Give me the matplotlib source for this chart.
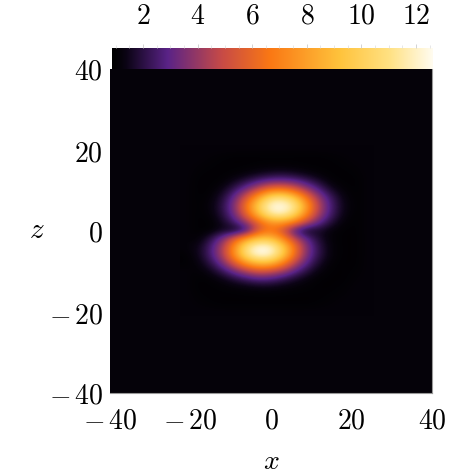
import numpy as np
import matplotlib
matplotlib.use("Agg")
import matplotlib.pyplot as plt
from matplotlib.colors import LinearSegmentedColormap

plt.rcParams['mathtext.fontset'] = 'cm'

# density, coarse grid (x columns, z rows)
x_cols = [-21, -18, -15, -12, -9, -6, -3, 0, 3, 6, 9, 12, 15, 18, 21, 24]
z_rows = [20, 18, 16, 14, 12, 10, 8, 6, 4, 2, 0, -2, -4, -6, -8, -10, -12, -14, -16, -18, -20]
density = [
    [1.15, 1.15, 1.15, 1.15, 1.15, 1.15, 1.15, 1.15, 1.15, 1.15, 1.15, 1.15, 1.15, 1.15, 1.15, 1.15],
    [1.15, 1.15, 1.1, 1.05, 1.0, 1.0, 1.0, 1.0, 1.0, 1.0, 1.0, 1.0, 1.05, 1.1, 1.15, 1.15],
    [1.15, 1.1, 1.05, 1.0, 1.0, 1.0, 1.05, 1.05, 1.05, 1.05, 1.0, 1.0, 1.0, 1.05, 1.1, 1.15],
    [1.15, 1.05, 1.0, 1.0, 1.05, 1.2, 1.4, 1.6, 1.7, 1.5, 1.3, 1.1, 1.0, 1.0, 1.05, 1.15],
    [1.15, 1.0, 1.0, 1.05, 1.5, 2.1, 2.8, 3.3, 3.4, 3.1, 2.4, 1.7, 1.1, 1.0, 1.0, 1.15],
    [1.15, 1.0, 1.0, 1.4, 2.3, 3.5, 5.1, 6.6, 6.8, 5.7, 4.1, 2.7, 1.6, 1.1, 1.0, 1.15],
    [1.15, 1.0, 1.1, 1.8, 3.2, 5.5, 8.3, 10.8, 11.2, 9.4, 6.4, 3.9, 2.3, 1.3, 1.0, 1.15],
    [1.15, 1.0, 1.2, 2.0, 3.6, 6.6, 10.0, 12.4, 12.6, 11.4, 7.7, 4.4, 2.5, 1.4, 1.0, 1.15],
    [1.15, 1.0, 1.1, 1.9, 3.3, 5.9, 9.0, 11.6, 12.0, 10.1, 6.9, 4.1, 2.4, 1.3, 1.0, 1.15],
    [1.15, 1.0, 1.0, 1.5, 2.5, 3.9, 5.9, 7.6, 7.7, 6.6, 4.5, 3.0, 1.8, 1.1, 1.0, 1.15],
    [1.15, 1.0, 1.0, 1.5, 1.3, 2.2, 5.5, 6.5, 5.2, 2.4, 1.4, 1.6, 1.15, 1.0, 1.0, 1.15],
    [1.15, 1.05, 2.0, 3.4, 5.6, 7.9, 9.4, 9.2, 7.2, 4.6, 2.9, 1.7, 1.1, 1.0, 1.0, 1.15],
    [1.15, 1.4, 2.5, 4.3, 7.4, 11.0, 12.6, 12.3, 9.8, 6.3, 3.5, 2.0, 1.15, 1.0, 1.0, 1.15],
    [1.0, 1.4, 2.5, 4.3, 7.4, 10.9, 12.5, 12.1, 9.7, 6.1, 3.4, 2.0, 1.15, 1.0, 1.0, 1.15],
    [1.0, 1.2, 2.0, 3.4, 5.5, 7.7, 9.0, 8.8, 6.9, 4.5, 2.8, 1.6, 1.05, 1.0, 1.0, 1.15],
    [1.15, 1.05, 1.4, 2.2, 3.3, 4.4, 5.2, 4.9, 4.1, 2.9, 1.9, 1.2, 1.0, 1.0, 1.05, 1.15],
    [1.15, 1.0, 1.05, 1.3, 1.8, 2.3, 2.7, 2.6, 2.1, 1.6, 1.2, 1.0, 1.0, 1.0, 1.1, 1.15],
    [1.15, 1.0, 1.0, 1.05, 1.1, 1.2, 1.3, 1.3, 1.2, 1.1, 1.05, 1.0, 1.0, 1.05, 1.15, 1.15],
    [1.15, 1.05, 1.0, 1.0, 1.0, 1.0, 1.0, 1.0, 1.0, 1.0, 1.0, 1.0, 1.05, 1.1, 1.15, 1.15],
    [1.15, 1.1, 1.05, 1.0, 1.0, 1.0, 1.0, 1.0, 1.0, 1.0, 1.0, 1.05, 1.1, 1.15, 1.15, 1.15],
    [1.15, 1.15, 1.15, 1.15, 1.15, 1.15, 1.15, 1.15, 1.15, 1.15, 1.15, 1.15, 1.15, 1.15, 1.15, 1.15],
]

x_ticks = [-40, -20, 0, 20, 40]
x_labels = [r'$-\,40$', r'$-\,20$', r'$0$', r'$20$', r'$40$']
z_ticks = [-40, -20, 0, 20, 40]
z_labels = [r'$-\,40$', r'$-\,20$', r'$0$', r'$20$', r'$40$']
bar_ticks = [2, 4, 6, 8, 10, 12]
bar_labels = ['$2$', '$4$', '$6$', '$8$', '$10$', '$12$']

vmin = 0.87
vmax = 12.6
nodes = [0.87, 1.15, 1.4, 2.9, 4.9, 6.65, 9.2, 11.0, 12.6]
node_colors = ['#000000', '#050209', '#0c0416', '#5a2387', '#c84b46', '#fa7814', '#ffc33c', '#ffe182', '#fffcf0']
cmap = LinearSegmentedColormap.from_list(
    'sunset', [((v - vmin) / (vmax - vmin), c) for v, c in zip(nodes, node_colors)], N=512)
norm = plt.Normalize(vmin, vmax)

W = H = 474.0
fig = plt.figure(figsize=(4.74, 4.74), dpi=100)
ax = fig.add_axes([110 / W, 1 - 393 / H, 322 / W, 324 / H])
ax.set_facecolor(cmap(norm(1.15)))

dx = x_cols[1] - x_cols[0]
dz = z_rows[0] - z_rows[1]
ax.imshow(density, cmap=cmap, norm=norm, interpolation='bicubic', aspect='auto',
          extent=[x_cols[0] - dx / 2, x_cols[-1] + dx / 2, z_rows[-1] - dz / 2, z_rows[0] + dz / 2])
ax.set_xlim(-40, 40)
ax.set_ylim(-40, 40)
ax.set_xticks(x_ticks)
ax.set_xticklabels(x_labels, fontsize=20)
ax.set_yticks(z_ticks)
ax.set_yticklabels(z_labels, fontsize=20)
ax.tick_params(axis='x', length=0, pad=10)
ax.tick_params(axis='y', length=0, pad=5)
for s in ax.spines.values():
    s.set_visible(False)
for s in ['bottom', 'right']:
    ax.spines[s].set_visible(True)
    ax.spines[s].set_color('#999999')
    ax.spines[s].set_linewidth(0.8)

fig.text(37 / W, 1 - 230 / H, '$z$', fontsize=21, ha='center', va='center')
fig.text(271 / W, 1 - 469 / H, '$x$', fontsize=20, ha='center', va='baseline')

# colour bar on top
cax = fig.add_axes([112 / W, 1 - 69 / H, 320.5 / W, 21 / H])
levels = np.linspace(vmin, vmax, 512)
cax.imshow(levels[np.newaxis, :], cmap=cmap, norm=norm, aspect='auto', extent=[vmin, vmax, 0, 1])
cax.set_xlim(vmin, vmax)
cax.set_yticks([])
cax.xaxis.tick_top()
cax.set_xticks(bar_ticks)
cax.set_xticklabels(bar_labels, fontsize=20)
cax.set_xticks(np.arange(1, 13, 0.5), minor=True)
cax.tick_params(axis='x', which='major', length=3, width=0.6, color='#cccccc', pad=10)
cax.tick_params(axis='x', which='minor', length=2, width=0.5, color='#dddddd')
for s in cax.spines.values():
    s.set_visible(False)

fig.savefig('out.png', dpi=100)
